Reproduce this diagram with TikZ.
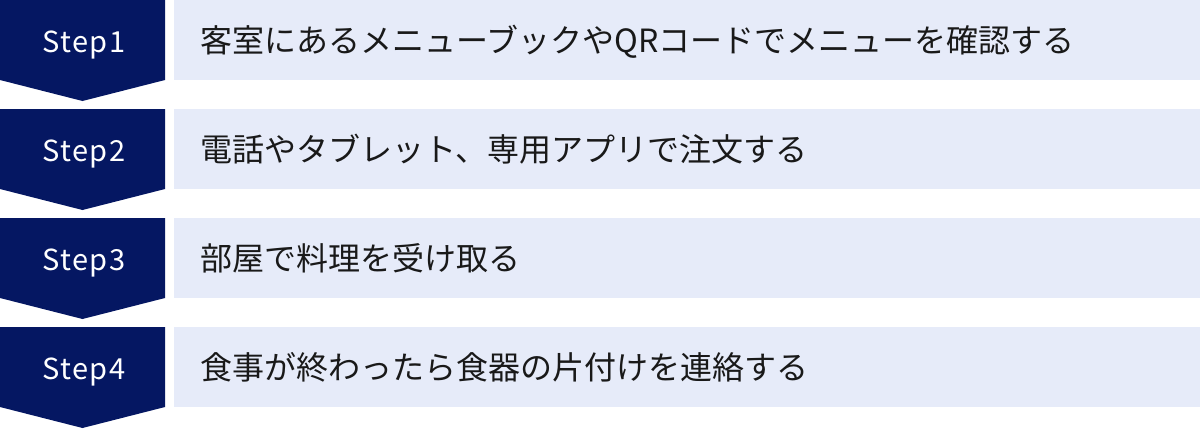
\documentclass[tikz,border=0pt]{standalone}
\usepackage{fontspec}
\setmainfont{Noto Sans CJK JP}
\newfontfamily\steplabelfont[LetterSpace=5]{Noto Sans CJK JP}
\definecolor{navy}{RGB}{5,23,98}
\definecolor{pale}{RGB}{230,235,249}
\definecolor{ink}{RGB}{25,25,25}
\tikzset{
  stepshape/.style={fill=navy, draw=none},
  barshape/.style={fill=pale, draw=none},
  steplabel/.style={anchor=base, inner sep=0pt, text=white, font=\steplabelfont\fontsize{29}{34}\selectfont},
  barlabel/.style={anchor=base west, inner sep=0pt, text=ink, font=\fontsize{32}{36}\selectfont}
}
\begin{document}
\begin{tikzpicture}[x=1pt,y=-1pt]
\useasboundingbox (0,0) rectangle (1200,429);
\foreach \t/\n/\lab in {0/1/{客室にあるメニューブックやQRコードでメニューを確認する},109/2/{電話やタブレット、専用アプリで注文する},218/3/{部屋で料理を受け取る},327/4/{食事が終わったら食器の片付けを連絡する}}{
  \fill[stepshape] (0,\t) -- (165,\t) -- (165,\t+80) -- (82.5,\t+101) -- (0,\t+80) -- cycle;
  \fill[barshape] (174,\t) rectangle (1200,\t+80);
  \node[steplabel] (step\n) at (84,\t+52) {Step\n};
  \node[barlabel] (text\n) at (200,\t+52) {\lab};
}
\end{tikzpicture}
\end{document}
